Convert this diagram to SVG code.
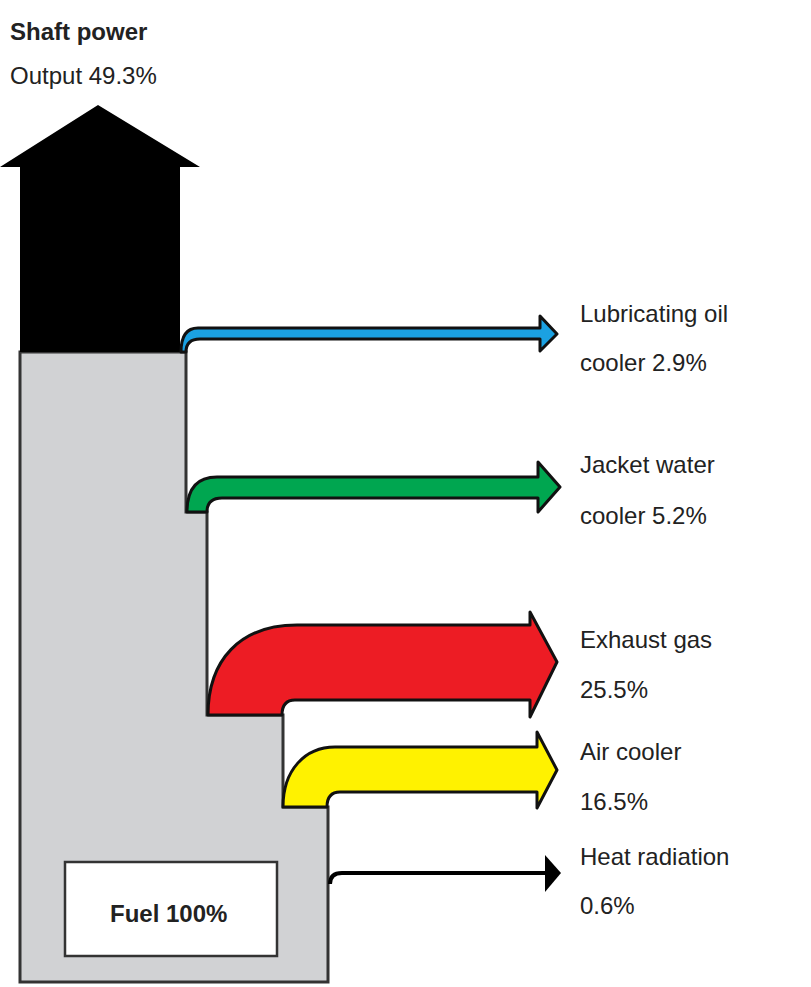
<svg xmlns="http://www.w3.org/2000/svg" width="811" height="987" viewBox="0 0 811 987">
<style>
text{font-family:"Liberation Sans",Arial,sans-serif;font-size:24px;fill:#222}
.b{font-weight:bold}
.band{stroke:#111;stroke-width:3;stroke-linejoin:round}
</style>
<rect width="811" height="987" fill="#fff"/>
<g id="fuel">
<path d="M20,352 L186,352 L186,512 L207,512 L207,715 L283,715 L283,807 L328,807 L328,982 L20,982 Z" fill="#d1d2d4" stroke="#333" stroke-width="3"/>
<rect x="65" y="862" width="212" height="94" fill="#fff" stroke="#333" stroke-width="2.5"/>
<text class="b" x="110" y="922">Fuel 100%</text>
</g>
<g id="shaft">
<path d="M20,352 L20,167 L0,167 L98,105 L200,167 L180,167 L180,352 Z" fill="#000"/>
<text class="b" x="10" y="40">Shaft power</text>
<text x="10" y="84">Output 49.3%</text>
</g>
<g id="connectors">
<path id="lube" class="band" fill="#1ba1e2" d="M181,352 Q181,328 198,328 L540,328 L540,316 L557,334 L540,351 L540,339 L200,339 Q186,339 186,352 Z"/>
<path id="jacket" class="band" fill="#00a650" d="M187,512 Q187,477 217,477 L538,477 L538,462 L560,487 L538,512 L538,498 L222,498 Q207,498 207,512 Z"/>
<path id="exhaust" class="band" fill="#ed1c24" d="M208,715 C208,660 240,625 297,625 L530,625 L530,612 L557,662 L530,717 L530,700 L295,700 Q282,700 282,715 Z"/>
<path id="air" class="band" fill="#fff200" d="M283,807 C283,770 305,747 335,747 L537,747 L537,732 L557,770 L537,808 L537,792 L340,792 Q327,792 327,807 Z"/>
<path id="heat" d="M330,884 Q330,873 342,873 L548,873" fill="none" stroke="#000" stroke-width="4"/>
<polygon points="545,855 561,873 545,892" fill="#000"/>
</g>
<g id="labels">
<text x="580" y="322">Lubricating oil</text>
<text x="580" y="371">cooler 2.9%</text>
<text x="580" y="473">Jacket water</text>
<text x="580" y="524">cooler 5.2%</text>
<text x="580" y="648">Exhaust gas</text>
<text x="580" y="698">25.5%</text>
<text x="580" y="760">Air cooler</text>
<text x="580" y="810">16.5%</text>
<text x="580" y="865">Heat radiation</text>
<text x="580" y="914">0.6%</text>
</g>
</svg>
